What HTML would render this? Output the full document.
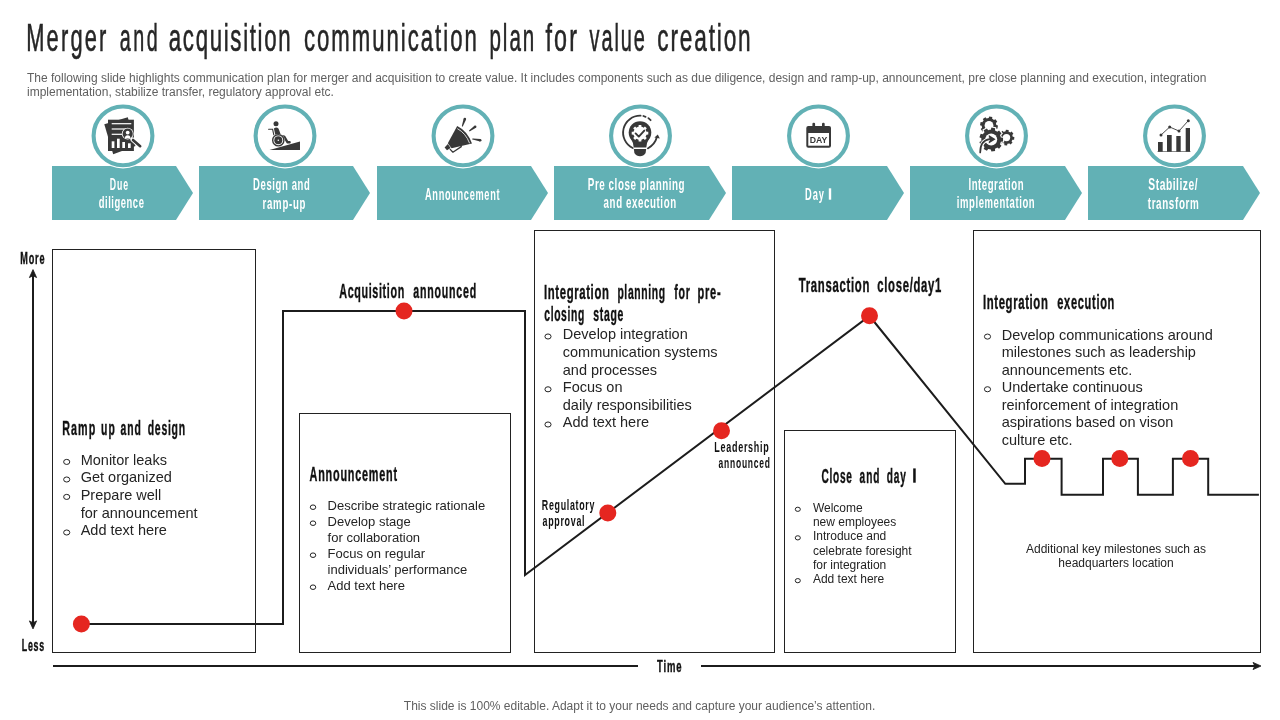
<!DOCTYPE html>
<html><head><meta charset="utf-8"><title>Merger and acquisition communication plan</title>
<style>
html,body{margin:0;padding:0;background:#fff;}
body{width:1280px;height:720px;overflow:hidden;position:relative;}
svg{position:absolute;left:0;top:0;font-family:"Liberation Sans",sans-serif;will-change:transform;}
</style></head>
<body>
<svg width="1280" height="720" viewBox="0 0 1280 720">
<rect width="1280" height="720" fill="#fff"/>
<polygon points="52,166 176,166 193,193.0 176,220 52,220" fill="#62b1b5"/>
<polygon points="199,166 353,166 370,193.0 353,220 199,220" fill="#62b1b5"/>
<polygon points="377,166 531,166 548,193.0 531,220 377,220" fill="#62b1b5"/>
<polygon points="554,166 709,166 726,193.0 709,220 554,220" fill="#62b1b5"/>
<polygon points="732,166 887,166 904,193.0 887,220 732,220" fill="#62b1b5"/>
<polygon points="910,166 1065,166 1082,193.0 1065,220 910,220" fill="#62b1b5"/>
<polygon points="1088,166 1243,166 1260,193.0 1243,220 1088,220" fill="#62b1b5"/>
<circle cx="123.0" cy="135.85" r="32.65" fill="#ffffff"/>
<circle cx="123.0" cy="135.85" r="29.4" fill="#ffffff" stroke="#62b1b5" stroke-width="4.1"/>
<circle cx="285.0" cy="135.85" r="32.65" fill="#ffffff"/>
<circle cx="285.0" cy="135.85" r="29.4" fill="#ffffff" stroke="#62b1b5" stroke-width="4.1"/>
<circle cx="463.0" cy="135.85" r="32.65" fill="#ffffff"/>
<circle cx="463.0" cy="135.85" r="29.4" fill="#ffffff" stroke="#62b1b5" stroke-width="4.1"/>
<circle cx="640.5" cy="135.85" r="32.65" fill="#ffffff"/>
<circle cx="640.5" cy="135.85" r="29.4" fill="#ffffff" stroke="#62b1b5" stroke-width="4.1"/>
<circle cx="818.5" cy="135.85" r="32.65" fill="#ffffff"/>
<circle cx="818.5" cy="135.85" r="29.4" fill="#ffffff" stroke="#62b1b5" stroke-width="4.1"/>
<circle cx="996.5" cy="135.85" r="32.65" fill="#ffffff"/>
<circle cx="996.5" cy="135.85" r="29.4" fill="#ffffff" stroke="#62b1b5" stroke-width="4.1"/>
<circle cx="1174.5" cy="135.85" r="32.65" fill="#ffffff"/>
<circle cx="1174.5" cy="135.85" r="29.4" fill="#ffffff" stroke="#62b1b5" stroke-width="4.1"/>
<rect x="52.5" y="249.5" width="203.0" height="403.0" fill="none" stroke="#222" stroke-width="1"/>
<rect x="299.5" y="413.5" width="211.0" height="239.0" fill="none" stroke="#222" stroke-width="1"/>
<rect x="534.5" y="230.5" width="240.0" height="422.0" fill="none" stroke="#222" stroke-width="1"/>
<rect x="784.5" y="430.5" width="171.0" height="222.0" fill="none" stroke="#222" stroke-width="1"/>
<rect x="973.5" y="230.5" width="287.0" height="422.0" fill="none" stroke="#222" stroke-width="1"/>
<polyline points="81.4,624 283,624 283,311 525,311 525,575 869.5,316 1005.3,483.8 1025,483.8 1025,458.8 1061.6,458.8 1061.6,494.7 1103,494.7 1103,458.8 1137.9,458.8 1137.9,494.7 1172.9,494.7 1172.9,458.8 1208.2,458.8 1208.2,494.7 1258.9,494.7" fill="none" stroke="#1c1c1c" stroke-width="2" stroke-linejoin="miter"/>
<circle cx="81.4" cy="624" r="8.5" fill="#e52620"/>
<circle cx="404" cy="311" r="8.5" fill="#e52620"/>
<circle cx="607.8" cy="512.9" r="8.5" fill="#e52620"/>
<circle cx="721.5" cy="430.8" r="8.5" fill="#e52620"/>
<circle cx="869.5" cy="315.7" r="8.5" fill="#e52620"/>
<circle cx="1042" cy="458.6" r="8.5" fill="#e52620"/>
<circle cx="1119.8" cy="458.6" r="8.5" fill="#e52620"/>
<circle cx="1190.5" cy="458.6" r="8.5" fill="#e52620"/>
<line x1="33" y1="275" x2="33" y2="623" stroke="#1c1c1c" stroke-width="2"/>
<path d="M33,269.6 L36.6,277.6 L33,275.8 L29.4,277.6 Z" fill="#1c1c1c" stroke="#1c1c1c" stroke-width="0.8" stroke-linejoin="round"/>
<path d="M33,628.9 L36.6,620.9 L33,622.7 L29.4,620.9 Z" fill="#1c1c1c" stroke="#1c1c1c" stroke-width="0.8" stroke-linejoin="round"/>
<line x1="53" y1="666" x2="638" y2="666" stroke="#1c1c1c" stroke-width="2"/>
<line x1="701" y1="666" x2="1258" y2="666" stroke="#1c1c1c" stroke-width="2"/>
<path d="M1261,666 L1253,662.4 L1254.8,666 L1253,669.6 Z" fill="#1c1c1c" stroke="#1c1c1c" stroke-width="0.8" stroke-linejoin="round"/>
<text transform="translate(26.16,50.60) scale(0.5606,1)" x="0" y="0" font-size="39" font-weight="normal" fill="#262626" letter-spacing="3.923" stroke="#262626" stroke-width="0.6">Merger</text>
<text transform="translate(119.67,50.60) scale(0.5056,1)" x="0" y="0" font-size="39" font-weight="normal" fill="#262626" letter-spacing="5.026" stroke="#262626" stroke-width="0.6">and</text>
<text transform="translate(168.79,50.60) scale(0.5705,1)" x="0" y="0" font-size="39" font-weight="normal" fill="#262626" letter-spacing="2.942" stroke="#262626" stroke-width="0.6">acquisition</text>
<text transform="translate(303.99,50.60) scale(0.5677,1)" x="0" y="0" font-size="39" font-weight="normal" fill="#262626" letter-spacing="3.510" stroke="#262626" stroke-width="0.6">communication</text>
<text transform="translate(489.41,50.60) scale(0.5278,1)" x="0" y="0" font-size="39" font-weight="normal" fill="#262626" letter-spacing="3.758" stroke="#262626" stroke-width="0.6">plan</text>
<text transform="translate(545.45,50.60) scale(0.5982,1)" x="0" y="0" font-size="39" font-weight="normal" fill="#262626" letter-spacing="3.663" stroke="#262626" stroke-width="0.6">for</text>
<text transform="translate(589.53,50.60) scale(0.5113,1)" x="0" y="0" font-size="39" font-weight="normal" fill="#262626" letter-spacing="3.744" stroke="#262626" stroke-width="0.6">value</text>
<text transform="translate(657.37,50.60) scale(0.5805,1)" x="0" y="0" font-size="39" font-weight="normal" fill="#262626" letter-spacing="3.145" stroke="#262626" stroke-width="0.6">creation</text>
<text x="27.00" y="81.90" font-size="12" font-weight="normal" fill="#606060">The following slide highlights communication plan for merger and acquisition to create value. It includes components such as due diligence, design and ramp-up, announcement, pre close planning and execution, integration</text>
<text x="27.00" y="96.00" font-size="12" font-weight="normal" fill="#606060">implementation, stabilize transfer, regulatory approval etc.</text>
<text transform="translate(109.87,189.80) scale(0.5294,1)" x="0" y="0" font-size="16.5" font-weight="bold" fill="#ffffff" letter-spacing="1.653">Due</text>
<text transform="translate(98.67,208.30) scale(0.5701,1)" x="0" y="0" font-size="16.5" font-weight="bold" fill="#ffffff" letter-spacing="0.976">diligence</text>
<text transform="translate(253.12,189.70) scale(0.5752,1)" x="0" y="0" font-size="16.5" font-weight="bold" fill="#ffffff" letter-spacing="1.074">Design and</text>
<text transform="translate(262.61,208.50) scale(0.5855,1)" x="0" y="0" font-size="16.5" font-weight="bold" fill="#ffffff" letter-spacing="1.190">ramp-up</text>
<text transform="translate(425.02,199.70) scale(0.5588,1)" x="0" y="0" font-size="16.5" font-weight="bold" fill="#ffffff" letter-spacing="1.207">Announcement</text>
<text transform="translate(587.80,189.70) scale(0.5954,1)" x="0" y="0" font-size="16.5" font-weight="bold" fill="#ffffff" letter-spacing="0.944">Pre close planning</text>
<text transform="translate(603.61,208.40) scale(0.5893,1)" x="0" y="0" font-size="16.5" font-weight="bold" fill="#ffffff" letter-spacing="1.014">and execution</text>
<text transform="translate(805.04,199.70) scale(0.5633,1)" x="0" y="0" font-size="16.5" font-weight="bold" fill="#ffffff" letter-spacing="1.611">Day</text>
<rect x="828.8" y="188.3" width="2.4" height="11.4" fill="#fff"/>
<text transform="translate(968.42,189.70) scale(0.5838,1)" x="0" y="0" font-size="16.5" font-weight="bold" fill="#ffffff" letter-spacing="0.925">Integration</text>
<text transform="translate(956.72,208.40) scale(0.5768,1)" x="0" y="0" font-size="16.5" font-weight="bold" fill="#ffffff" letter-spacing="1.026">implementation</text>
<text transform="translate(1148.29,189.70) scale(0.6220,1)" x="0" y="0" font-size="16.5" font-weight="bold" fill="#ffffff" letter-spacing="0.873">Stabilize/</text>
<text transform="translate(1147.75,208.50) scale(0.5976,1)" x="0" y="0" font-size="16.5" font-weight="bold" fill="#ffffff" letter-spacing="1.052">transform</text>
<text transform="translate(20.37,263.60) scale(0.5702,1)" x="0" y="0" font-size="16" font-weight="bold" fill="#111" letter-spacing="1.380" stroke="#111" stroke-width="0.4">More</text>
<text transform="translate(21.78,650.90) scale(0.5540,1)" x="0" y="0" font-size="16" font-weight="bold" fill="#111" letter-spacing="1.306" stroke="#111" stroke-width="0.4">Less</text>
<text transform="translate(657.10,671.90) scale(0.5927,1)" x="0" y="0" font-size="16" font-weight="bold" fill="#111" letter-spacing="1.361" stroke="#111" stroke-width="0.4">Time</text>
<text transform="translate(62.16,434.60) scale(0.5367,1)" x="0" y="0" font-size="20" font-weight="bold" fill="#111" letter-spacing="2.000" stroke="#111" stroke-width="0.4">Ramp</text>
<text transform="translate(100.98,434.60) scale(0.5182,1)" x="0" y="0" font-size="20" font-weight="bold" fill="#111" letter-spacing="2.528" stroke="#111" stroke-width="0.4">up</text>
<text transform="translate(120.47,434.60) scale(0.5177,1)" x="0" y="0" font-size="20" font-weight="bold" fill="#111" letter-spacing="1.903" stroke="#111" stroke-width="0.4">and</text>
<text transform="translate(147.74,434.60) scale(0.5229,1)" x="0" y="0" font-size="20" font-weight="bold" fill="#111" letter-spacing="1.400" stroke="#111" stroke-width="0.4">design</text>
<text transform="translate(339.27,297.90) scale(0.5375,1)" x="0" y="0" font-size="20" font-weight="bold" fill="#111" letter-spacing="1.197" stroke="#111" stroke-width="0.4">Acquisition</text>
<text transform="translate(413.37,297.90) scale(0.5310,1)" x="0" y="0" font-size="20" font-weight="bold" fill="#111" letter-spacing="1.462" stroke="#111" stroke-width="0.4">announced</text>
<text transform="translate(309.56,480.80) scale(0.5415,1)" x="0" y="0" font-size="20" font-weight="bold" fill="#111" letter-spacing="1.467" stroke="#111" stroke-width="0.4">Announcement</text>
<text transform="translate(543.93,298.75) scale(0.5671,1)" x="0" y="0" font-size="20" font-weight="bold" fill="#111" letter-spacing="1.125" stroke="#111" stroke-width="0.4">Integration</text>
<text transform="translate(617.38,298.75) scale(0.5184,1)" x="0" y="0" font-size="20" font-weight="bold" fill="#111" letter-spacing="1.290" stroke="#111" stroke-width="0.4">planning</text>
<text transform="translate(674.30,298.75) scale(0.5298,1)" x="0" y="0" font-size="20" font-weight="bold" fill="#111" letter-spacing="1.472" stroke="#111" stroke-width="0.4">for</text>
<text transform="translate(697.55,298.75) scale(0.5512,1)" x="0" y="0" font-size="20" font-weight="bold" fill="#111" letter-spacing="1.343" stroke="#111" stroke-width="0.4">pre-</text>
<text transform="translate(544.24,320.60) scale(0.5164,1)" x="0" y="0" font-size="20" font-weight="bold" fill="#111" letter-spacing="1.269" stroke="#111" stroke-width="0.4">closing</text>
<text transform="translate(593.14,320.60) scale(0.5216,1)" x="0" y="0" font-size="20" font-weight="bold" fill="#111" letter-spacing="1.424" stroke="#111" stroke-width="0.4">stage</text>
<text transform="translate(798.75,291.90) scale(0.5663,1)" x="0" y="0" font-size="20" font-weight="bold" fill="#111" letter-spacing="1.236" stroke="#111" stroke-width="0.4">Transaction</text>
<text transform="translate(877.22,291.90) scale(0.5653,1)" x="0" y="0" font-size="20" font-weight="bold" fill="#111" letter-spacing="1.253" stroke="#111" stroke-width="0.4">close/day1</text>
<text transform="translate(821.45,482.70) scale(0.5047,1)" x="0" y="0" font-size="20" font-weight="bold" fill="#111" letter-spacing="1.486" stroke="#111" stroke-width="0.4">Close</text>
<text transform="translate(859.57,482.70) scale(0.5045,1)" x="0" y="0" font-size="20" font-weight="bold" fill="#111" letter-spacing="1.903" stroke="#111" stroke-width="0.4">and</text>
<text transform="translate(886.65,482.70) scale(0.5056,1)" x="0" y="0" font-size="20" font-weight="bold" fill="#111" letter-spacing="1.889" stroke="#111" stroke-width="0.4">day</text>
<rect x="913.2" y="468.4" width="2.5" height="14.3" fill="#111"/>
<text transform="translate(982.93,308.75) scale(0.5667,1)" x="0" y="0" font-size="20" font-weight="bold" fill="#111" letter-spacing="1.125" stroke="#111" stroke-width="0.4">Integration</text>
<text transform="translate(1057.22,308.75) scale(0.5518,1)" x="0" y="0" font-size="20" font-weight="bold" fill="#111" letter-spacing="1.274" stroke="#111" stroke-width="0.4">execution</text>
<text transform="translate(541.87,509.70) scale(0.6256,1)" x="0" y="0" font-size="14.2" font-weight="bold" fill="#111" letter-spacing="1.106">Regulatory</text>
<text transform="translate(542.49,525.60) scale(0.6278,1)" x="0" y="0" font-size="14.2" font-weight="bold" fill="#111" letter-spacing="1.125">approval</text>
<text transform="translate(714.37,451.70) scale(0.6338,1)" x="0" y="0" font-size="14.2" font-weight="bold" fill="#111" letter-spacing="1.121">Leadership</text>
<text transform="translate(718.60,467.50) scale(0.5985,1)" x="0" y="0" font-size="14.2" font-weight="bold" fill="#111" letter-spacing="1.266">announced</text>
<text x="80.70" y="464.80" font-size="14.5" font-weight="normal" fill="#242424">Monitor  leaks</text>
<ellipse cx="66.70" cy="461.90" rx="3.07" ry="2.54" fill="none" stroke="#242424" stroke-width="1.0"/>
<text x="80.70" y="482.40" font-size="14.5" font-weight="normal" fill="#242424">Get organized</text>
<ellipse cx="66.70" cy="479.50" rx="3.07" ry="2.54" fill="none" stroke="#242424" stroke-width="1.0"/>
<text x="80.70" y="499.80" font-size="14.5" font-weight="normal" fill="#242424">Prepare well</text>
<ellipse cx="66.70" cy="496.90" rx="3.07" ry="2.54" fill="none" stroke="#242424" stroke-width="1.0"/>
<text x="80.70" y="517.60" font-size="14.5" font-weight="normal" fill="#242424">for announcement</text>
<text x="80.70" y="535.40" font-size="14.5" font-weight="normal" fill="#242424">Add text here</text>
<ellipse cx="66.70" cy="532.50" rx="3.07" ry="2.54" fill="none" stroke="#242424" stroke-width="1.0"/>
<text x="327.60" y="509.80" font-size="13" font-weight="normal" fill="#242424">Describe  strategic  rationale</text>
<ellipse cx="313.00" cy="507.20" rx="2.75" ry="2.27" fill="none" stroke="#242424" stroke-width="1.0"/>
<text x="327.60" y="525.80" font-size="13" font-weight="normal" fill="#242424">Develop  stage</text>
<ellipse cx="313.00" cy="523.20" rx="2.75" ry="2.27" fill="none" stroke="#242424" stroke-width="1.0"/>
<text x="327.60" y="541.80" font-size="13" font-weight="normal" fill="#242424">for  collaboration</text>
<text x="327.60" y="557.80" font-size="13" font-weight="normal" fill="#242424">Focus  on  regular</text>
<ellipse cx="313.00" cy="555.20" rx="2.75" ry="2.27" fill="none" stroke="#242424" stroke-width="1.0"/>
<text x="327.60" y="573.80" font-size="13" font-weight="normal" fill="#242424">individuals’  performance</text>
<text x="327.60" y="589.80" font-size="13" font-weight="normal" fill="#242424">Add text here</text>
<ellipse cx="313.00" cy="587.20" rx="2.75" ry="2.27" fill="none" stroke="#242424" stroke-width="1.0"/>
<text x="562.80" y="339.40" font-size="14.5" font-weight="normal" fill="#242424">Develop integration</text>
<ellipse cx="548.00" cy="336.50" rx="3.07" ry="2.54" fill="none" stroke="#242424" stroke-width="1.0"/>
<text x="562.80" y="357.00" font-size="14.5" font-weight="normal" fill="#242424">communication systems</text>
<text x="562.80" y="374.60" font-size="14.5" font-weight="normal" fill="#242424">and processes</text>
<text x="562.80" y="392.20" font-size="14.5" font-weight="normal" fill="#242424">Focus on</text>
<ellipse cx="548.00" cy="389.30" rx="3.07" ry="2.54" fill="none" stroke="#242424" stroke-width="1.0"/>
<text x="562.80" y="409.80" font-size="14.5" font-weight="normal" fill="#242424">daily responsibilities</text>
<text x="562.80" y="427.40" font-size="14.5" font-weight="normal" fill="#242424">Add text here</text>
<ellipse cx="548.00" cy="424.50" rx="3.07" ry="2.54" fill="none" stroke="#242424" stroke-width="1.0"/>
<text x="812.90" y="511.70" font-size="12" font-weight="normal" fill="#242424">Welcome</text>
<ellipse cx="797.80" cy="509.30" rx="2.54" ry="2.10" fill="none" stroke="#242424" stroke-width="1.0"/>
<text x="812.90" y="525.97" font-size="12" font-weight="normal" fill="#242424">new employees</text>
<text x="812.90" y="540.24" font-size="12" font-weight="normal" fill="#242424">Introduce and</text>
<ellipse cx="797.80" cy="537.84" rx="2.54" ry="2.10" fill="none" stroke="#242424" stroke-width="1.0"/>
<text x="812.90" y="554.51" font-size="12" font-weight="normal" fill="#242424">celebrate foresight</text>
<text x="812.90" y="568.78" font-size="12" font-weight="normal" fill="#242424">for integration</text>
<text x="812.90" y="583.05" font-size="12" font-weight="normal" fill="#242424">Add text here</text>
<ellipse cx="797.80" cy="580.65" rx="2.54" ry="2.10" fill="none" stroke="#242424" stroke-width="1.0"/>
<text x="1001.70" y="339.50" font-size="14.5" font-weight="normal" fill="#242424">Develop  communications around</text>
<ellipse cx="987.50" cy="336.60" rx="3.07" ry="2.54" fill="none" stroke="#242424" stroke-width="1.0"/>
<text x="1001.70" y="357.05" font-size="14.5" font-weight="normal" fill="#242424">milestones such as leadership</text>
<text x="1001.70" y="374.60" font-size="14.5" font-weight="normal" fill="#242424">announcements etc.</text>
<text x="1001.70" y="392.15" font-size="14.5" font-weight="normal" fill="#242424">Undertake  continuous</text>
<ellipse cx="987.50" cy="389.25" rx="3.07" ry="2.54" fill="none" stroke="#242424" stroke-width="1.0"/>
<text x="1001.70" y="409.70" font-size="14.5" font-weight="normal" fill="#242424">reinforcement of integration</text>
<text x="1001.70" y="427.25" font-size="14.5" font-weight="normal" fill="#242424">aspirations based on vison</text>
<text x="1001.70" y="444.80" font-size="14.5" font-weight="normal" fill="#242424">culture etc.</text>
<text x="1116.00" y="553.00" font-size="12" font-weight="normal" fill="#242424" text-anchor="middle">Additional key  milestones such as</text>
<text x="1116.00" y="567.00" font-size="12" font-weight="normal" fill="#242424" text-anchor="middle">headquarters location</text>
<text x="403.80" y="710.10" font-size="12" font-weight="normal" fill="#606060">This slide is 100% editable. Adapt it to your needs and capture your audience’s attention.</text>
<g>
<polygon points="104.3,124.3 127.8,117.2 135.5,146 113.2,154.2" fill="#383838"/>
<rect x="108" y="119.7" width="25.9" height="31.3" fill="#383838"/>
<rect x="111.7" y="123.1" width="19.6" height="1.2" fill="#fff"/>
<rect x="111.7" y="128.4" width="14.5" height="1.2" fill="#fff"/>
<rect x="111.7" y="133.7" width="10.3" height="1.2" fill="#fff"/>
<rect x="111.7" y="141.3" width="2.7" height="6.7" fill="#fff"/>
<rect x="117" y="138.7" width="2.7" height="9.3" fill="#fff"/>
<rect x="122.3" y="142" width="2.7" height="6" fill="#fff"/>
<rect x="128" y="143.3" width="2.7" height="4.7" fill="#fff"/>
<line x1="132.6" y1="139.6" x2="140.4" y2="146.4" stroke="#fff" stroke-width="4.6" stroke-linecap="round"/>
<circle cx="127.7" cy="133.7" r="5.9" fill="#fff"/>
<circle cx="127.7" cy="133.7" r="5.1" fill="#383838"/>
<circle cx="127.7" cy="132.6" r="1.9" fill="#fff"/>
<path d="M124.9,138.2 Q125,135.3 127.7,135.3 Q130.4,135.3 130.5,138.2 Z" fill="#fff"/>
<line x1="133" y1="140" x2="140.2" y2="146.2" stroke="#383838" stroke-width="2.6" stroke-linecap="round"/>
</g>
<g>
<polygon points="269.5,150 300,141.5 300,150" fill="#383838"/>
<circle cx="276" cy="123.7" r="2.5" fill="#383838"/>
<path d="M273.9,128.6 Q276.6,126.4 278.6,128.8 L280.8,134.8 Q281.2,136.9 278.8,137.1 L275.8,137.1 Z" fill="#383838"/>
<polyline points="268.6,129.3 272.6,129.3 273.8,134.8" fill="none" stroke="#383838" stroke-width="1.1" stroke-linecap="round"/>
<polyline points="278.5,135.5 284.2,136.6 287.6,142.3 289.6,142.3" fill="none" stroke="#383838" stroke-width="2.4" stroke-linejoin="round" stroke-linecap="round"/>
<circle cx="278.3" cy="140.3" r="6.4" fill="#fff"/>
<circle cx="278.3" cy="140.3" r="5.6" fill="none" stroke="#383838" stroke-width="1.4"/>
<circle cx="278.3" cy="140.3" r="4.0" fill="#383838"/>
<circle cx="278.3" cy="140.3" r="0.8" fill="#fff"/>
</g>
<g>
<path d="M457.2,126 Q467.5,131 472,143.6 L451.6,148.2 L447.8,143.3 Z" fill="#383838"/>
<path d="M457.3,128.6 Q465.8,133.2 469.6,143.3" fill="none" stroke="#fff" stroke-width="0.8"/>
<polygon points="444.6,147.5 447.9,144.0 450.6,147.9 447.0,150.3" fill="#383838"/>
<polyline points="450.2,149.4 452.9,152.2 461.3,146.6 460.6,145.2" fill="none" stroke="#383838" stroke-width="1.3" stroke-linejoin="round" stroke-linecap="round"/>
<polygon points="462.92,126.18 466.08,119.42 463.72,118.58 461.88,125.82" fill="#383838"/><circle cx="464.90" cy="119.00" r="1.25" fill="#383838"/><circle cx="462.40" cy="126.00" r="0.55" fill="#383838"/>
<polygon points="469.92,131.25 475.93,127.82 474.47,125.78 469.28,130.35" fill="#383838"/><circle cx="475.20" cy="126.80" r="1.25" fill="#383838"/><circle cx="469.60" cy="130.80" r="0.55" fill="#383838"/>
<polygon points="472.71,139.54 480.00,141.43 480.40,138.97 472.89,138.46" fill="#383838"/><circle cx="480.20" cy="140.20" r="1.25" fill="#383838"/><circle cx="472.80" cy="139.00" r="0.55" fill="#383838"/>
</g>
<g>
<circle cx="640" cy="132.6" r="11.3" fill="#383838"/>
<path d="M630.6,138 L649.4,138 Q646.6,142.5 646.3,147.6 L633.7,147.6 Q633.4,142.5 630.6,138 Z" fill="#383838"/>
<path d="M633.8,148.9 L646.2,148.9 L645.6,153 Q643.5,156.2 640,156.2 Q636.5,156.2 634.4,153 Z" fill="#383838"/>
<path d="M637.47,127.10 L638.57,126.76 L638.67,124.91 L641.33,124.91 L641.43,126.76 L642.53,127.10 L643.54,127.63 L644.92,126.39 L646.81,128.28 L645.57,129.66 L646.10,130.67 L646.44,131.77 L648.29,131.87 L648.29,134.53 L646.44,134.63 L646.10,135.73 L645.57,136.74 L646.81,138.12 L644.92,140.01 L643.54,138.77 L642.53,139.30 L641.43,139.64 L641.33,141.49 L638.67,141.49 L638.57,139.64 L637.47,139.30 L636.46,138.77 L635.08,140.01 L633.19,138.12 L634.43,136.74 L633.90,135.73 L633.56,134.63 L631.71,134.53 L631.71,131.87 L633.56,131.77 L633.90,130.67 L634.43,129.66 L633.19,128.28 L635.08,126.39 L636.46,127.63 Z" fill="#fff"/>
<polyline points="635.6,133.4 638.8,136.6 644.3,130.6" fill="none" stroke="#383838" stroke-width="1.9" stroke-linecap="round" stroke-linejoin="round"/>
<path d="M632.7,148.0 A17,17 0 0 1 640.6,115.7" fill="none" stroke="#383838" stroke-width="1.8" stroke-linecap="round"/>
<line x1="643.4" y1="116.0" x2="645.6" y2="116.8" stroke="#383838" stroke-width="1.8" stroke-linecap="round"/>
<line x1="648.4" y1="118.2" x2="650.6" y2="120.2" stroke="#383838" stroke-width="1.8" stroke-linecap="round"/>
<path d="M647.8,148.4 Q655.2,144 656.8,137.2" fill="none" stroke="#383838" stroke-width="1.8" stroke-linecap="round"/>
<polygon points="657.8,134.4 659.8,138.4 654.4,137.6" fill="#383838"/>
</g>
<g>
<rect x="806.3" y="126" width="24.7" height="21.7" rx="2" fill="#383838"/>
<rect x="808.3" y="133" width="20.7" height="12.7" fill="#fff"/>
<rect x="812.4" y="122.8" width="2.7" height="4.5" rx="1.2" fill="#383838"/>
<rect x="822" y="122.8" width="2.7" height="4.5" rx="1.2" fill="#383838"/>
<text x="818.6" y="142.7" font-size="9.2" font-weight="bold" fill="#383838" text-anchor="middle" textLength="17.6" lengthAdjust="spacingAndGlyphs">DAY</text>
</g>
<g>
<path d="M996.16,124.00 L996.29,125.08 L998.00,125.61 L997.37,128.71 L995.59,128.53 L995.05,129.48 L994.38,130.33 L995.21,131.91 L992.58,133.66 L991.45,132.28 L990.40,132.56 L989.32,132.69 L988.79,134.40 L985.69,133.77 L985.87,131.99 L984.92,131.45 L984.07,130.78 L982.49,131.61 L980.74,128.98 L982.12,127.85 L981.84,126.80 L981.71,125.72 L980.00,125.19 L980.63,122.09 L982.41,122.27 L982.95,121.32 L983.62,120.47 L982.79,118.89 L985.42,117.14 L986.55,118.52 L987.60,118.24 L988.68,118.11 L989.21,116.40 L992.31,117.03 L992.13,118.81 L993.08,119.35 L993.93,120.02 L995.51,119.19 L997.26,121.82 L995.88,122.95 Z" fill="#383838"/>
<circle cx="989" cy="125.4" r="4.4" fill="#fff"/>
<path d="M1012.53,135.78 L1012.74,136.70 L1014.38,136.99 L1014.10,139.76 L1012.43,139.72 L1012.05,140.58 L1011.55,141.37 L1012.50,142.74 L1010.35,144.50 L1009.19,143.29 L1008.32,143.63 L1007.40,143.84 L1007.11,145.48 L1004.34,145.20 L1004.38,143.53 L1003.52,143.15 L1002.73,142.65 L1001.36,143.60 L999.60,141.45 L1000.81,140.29 L1000.47,139.42 L1000.26,138.50 L998.62,138.21 L998.90,135.44 L1000.57,135.48 L1000.95,134.62 L1001.45,133.83 L1000.50,132.46 L1002.65,130.70 L1003.81,131.91 L1004.68,131.57 L1005.60,131.36 L1005.89,129.72 L1008.66,130.00 L1008.62,131.67 L1009.48,132.05 L1010.27,132.55 L1011.64,131.60 L1013.40,133.75 L1012.19,134.91 Z" fill="#383838"/>
<circle cx="1006.5" cy="137.6" r="3.7" fill="#fff"/>
<path d="M1000.50,136.21 L1000.87,137.47 L1003.05,137.72 L1003.05,141.48 L1000.87,141.73 L1000.50,142.99 L999.97,144.19 L1001.49,145.78 L999.07,148.66 L997.24,147.44 L996.15,148.17 L994.97,148.75 L995.11,150.95 L991.41,151.60 L990.79,149.49 L989.48,149.35 L988.21,149.04 L986.90,150.80 L983.65,148.93 L984.52,146.91 L983.62,145.96 L982.84,144.90 L980.70,145.42 L979.42,141.89 L981.39,140.91 L981.30,139.60 L981.39,138.29 L979.42,137.31 L980.70,133.78 L982.84,134.30 L983.62,133.24 L984.52,132.29 L983.65,130.27 L986.90,128.40 L988.21,130.16 L989.48,129.85 L990.79,129.71 L991.41,127.60 L995.11,128.25 L994.97,130.45 L996.15,131.03 L997.24,131.76 L999.07,130.54 L1001.49,133.42 L999.97,135.01 Z" fill="#383838" stroke="#fff" stroke-width="2.2" paint-order="stroke"/>
<circle cx="991.2" cy="139.6" r="6.0" fill="#fff"/>
<polygon points="988.8,135.0 988.8,143.6 995.6,139.3" fill="#383838"/>
<path d="M980.2,152.4 Q980.2,140.6 989.5,139.2" fill="none" stroke="#fff" stroke-width="3.4"/>
<path d="M980.2,152.4 Q980.2,140.6 989.5,139.2" fill="none" stroke="#383838" stroke-width="1.7" stroke-linecap="round"/>
</g>
<g>
<rect x="1158" y="142" width="4.7" height="9.7" fill="#383838"/>
<rect x="1167" y="135" width="4.7" height="16.7" fill="#383838"/>
<rect x="1176.3" y="136" width="4.4" height="15.7" fill="#383838"/>
<rect x="1185.7" y="128" width="4.3" height="23.7" fill="#383838"/>
<line x1="1157.5" y1="151.5" x2="1190.5" y2="151.5" stroke="#383838" stroke-width="0.6"/>
<polyline points="1161,135 1169.7,127 1179,131 1188.3,120.7" fill="none" stroke="#383838" stroke-width="0.9"/>
<circle cx="1161" cy="135" r="1.5" fill="#383838"/>
<circle cx="1169.7" cy="127" r="1.5" fill="#383838"/>
<circle cx="1179" cy="131" r="1.5" fill="#383838"/>
<circle cx="1188.3" cy="120.7" r="1.5" fill="#383838"/>
</g>
</svg>
</body></html>
